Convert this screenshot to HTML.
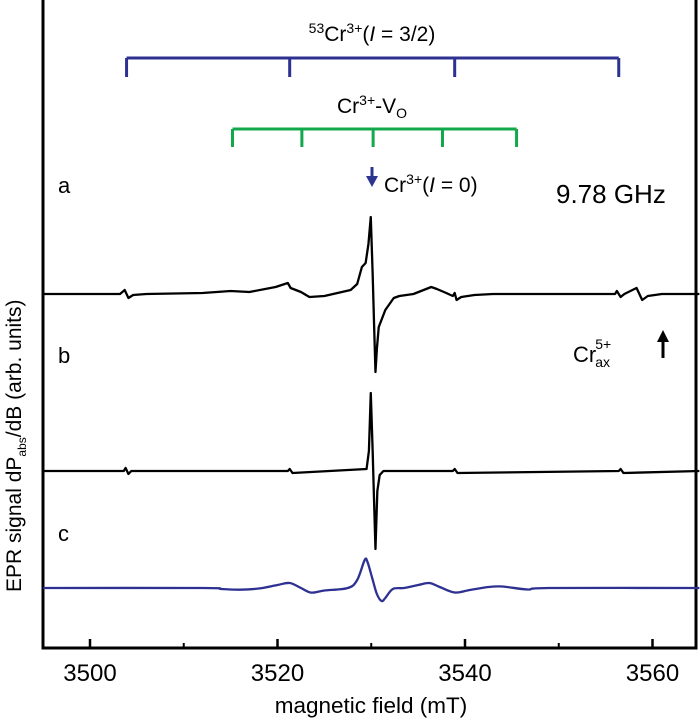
<!DOCTYPE html>
<html><head><meta charset="utf-8"><style>
html,body{margin:0;padding:0;background:#fff;}
svg{display:block;font-family:"Liberation Sans",Arial,sans-serif;}
</style></head><body>
<svg id="chart" width="700" height="718" viewBox="0 0 700 718">
<g id="axes"></g>
<g id="traces"></g>
<g id="annot">
  <text x="372" y="41" font-size="21" text-anchor="middle"><tspan font-size="14" dy="-8">53</tspan><tspan dy="8">Cr</tspan><tspan font-size="14" dy="-8">3+</tspan><tspan dy="8">(</tspan><tspan font-style="italic">I</tspan><tspan> = 3/2)</tspan></text>
  <text x="372" y="113" font-size="21" text-anchor="middle">Cr<tspan font-size="14" dy="-8">3+</tspan><tspan dy="8">-V</tspan><tspan font-size="14" dy="5">O</tspan></text>
  <line x1="372" y1="167" x2="372" y2="178" stroke="#2b3590" stroke-width="3"/>
  <polygon points="366,176 378,176 372,187" fill="#2b3590"/>
  <text x="384" y="192" font-size="21">Cr<tspan font-size="14" dy="-8">3+</tspan><tspan dy="8">(</tspan><tspan font-style="italic">I</tspan><tspan> = 0)</tspan></text>
  <text x="556" y="203" font-size="26">9.78 GHz</text>
  <text x="58" y="193" font-size="22">a</text>
  <text x="58" y="363" font-size="22">b</text>
  <text x="58" y="541" font-size="22">c</text>
  <text x="573" y="362" font-size="22">Cr<tspan font-size="14" dx="-1" dy="-13">5+</tspan><tspan font-size="14" dx="-16" dy="18">ax</tspan></text>
  <line x1="663" y1="358" x2="663" y2="340" stroke="#000" stroke-width="3"/>
  <polygon points="657,342 669,342 663,330" fill="#000"/>
  <text transform="translate(21,592) rotate(-90)" font-size="21">EPR signal dP<tspan font-size="12" dy="5">abs</tspan><tspan dy="-5">/dB (arb. units)</tspan></text>
  <text x="371" y="713" font-size="22.5" text-anchor="middle">magnetic field (mT)</text>
</g>
</svg>
<script>
// data
const xTicks = [3500, 3520, 3540, 3560];
const xMinorTicks = [3510, 3530, 3550];
const cr53Lines = [3503.9, 3521.3, 3538.9, 3556.4];
const crVoLines = [3515.2, 3522.6, 3530.2, 3537.6, 3545.5];
const traceAField = [3495,3503.2,3503.7,3504.1,3504.6,3506,3512,3515,3517,3519.8,3521.1,3521.4,3522.5,3523.4,3525,3527.8,3528.5,3529,3529.4,3529.7,3529.95,3530.15,3530.3,3530.45,3530.6,3530.8,3531.5,3532.4,3533,3534.5,3536.4,3537,3538,3538.7,3538.9,3539.1,3539.6,3541,3543,3556,3556.2,3556.6,3557,3558.3,3558.9,3559.5,3561,3565];
const traceAValue = [0,0,4,-4,-1,0,1,3,2,7,11,6,2,-3,-2,4,10,27,31,50,77,20,-30,-78,-55,-33,-16,-4,-2,0,7,5,1,-2,1,-6,-3,-1,0,0,3,-3,0,6,-6,-2,0,0];
const traceBField = [3495,3503.6,3503.8,3504.1,3504.4,3521.1,3521.3,3521.6,3529.5,3529.75,3529.95,3530.15,3530.3,3530.45,3530.65,3530.9,3531.3,3538.7,3538.9,3539.2,3556.4,3556.6,3556.9,3565];
const traceBValue = [0,0,3,-3,0,0,2,-2,2,20,78,20,-30,-78,-20,-4,0,0,2,-2,0,2,-2,0];
const traceCField = [3495,3512,3514,3516,3518,3520,3521.3,3522.5,3523.6,3525,3527.5,3528.5,3529.3,3529.6,3530.1,3530.6,3531.1,3531.5,3532.3,3533.5,3535,3536.2,3537.3,3538.9,3540.5,3542.5,3544,3546.7,3549,3565];
const traceCValue = [0,0,-1,-1.7,-0.5,3,5,0,-4.6,-2.5,0,8,28,26,10,-6,-13,-10,-1,0,3,5,1,-4.5,-2,1,1.5,-1.5,0,0];

const NS = 'http://www.w3.org/2000/svg';
const xScale = b => 90 + (b - 3500) * 9.375;
const yA = v => 294 - v, yB = v => 471 - v, yC = v => 588 - v;
function mk(tag, attrs, parent){ const e=document.createElementNS(NS,tag); for(const k in attrs) e.setAttribute(k,attrs[k]); parent.appendChild(e); return e; }
const axes = document.getElementById('axes'), traces = document.getElementById('traces');

let e = mk('path',{d:'M43,0 V648 H696 V0',fill:'none',stroke:'#000','stroke-width':3},axes);


xTicks.forEach(t=>{
  const x=xScale(t);
  let l=mk('line',{x1:x,x2:x,y1:648,y2:639,stroke:'#000','stroke-width':2.5},axes);
  
  
  let tx=mk('text',{x:x,y:681,'font-size':24,'text-anchor':'middle'},axes);
  tx.textContent=t;
  
  
});
xMinorTicks.forEach(t=>{
  const x=xScale(t);
  let l=mk('line',{x1:x,x2:x,y1:648,y2:643,stroke:'#000','stroke-width':2},axes);
  
  
});
function bracket(lines, y, h, color, name){
  const xs=lines.map(xScale);
  let d='M'+xs[0]+','+y+' H'+xs[xs.length-1];
  xs.forEach(x=>{ d+=' M'+x+','+y+' V'+(y+h); });
  let p=mk('path',{d:d,fill:'none',stroke:color,'stroke-width':3},traces);
  
  
}
bracket(cr53Lines,58,19,'#2e3192','cr53-bracket');
bracket(crVoLines,129,18,'#13a84b','cr-vo-bracket');
function linePath(fs, vs, ys){ return fs.map((f,i)=>(i?'L':'M')+xScale(f).toFixed(2)+','+ys(vs[i]).toFixed(2)).join(' '); }
function smoothPath(fs, vs, ys){
  const P=fs.map((f,i)=>[xScale(f),ys(vs[i])]);
  let d='M'+P[0][0]+','+P[0][1];
  for(let i=0;i<P.length-1;i++){
    const p0=P[Math.max(0,i-1)],p1=P[i],p2=P[i+1],p3=P[Math.min(P.length-1,i+2)];
    const c1=[p1[0]+(p2[0]-p0[0])/6,p1[1]+(p2[1]-p0[1])/6], c2=[p2[0]-(p3[0]-p1[0])/6,p2[1]-(p3[1]-p1[1])/6];
    d+=' C'+c1[0].toFixed(2)+','+c1[1].toFixed(2)+' '+c2[0].toFixed(2)+','+c2[1].toFixed(2)+' '+p2[0].toFixed(2)+','+p2[1].toFixed(2);
  }
  return d;
}
let pa=mk('path',{d:linePath(traceAField,traceAValue,yA),fill:'none',stroke:'#000','stroke-width':2.3,'stroke-linejoin':'round'},traces);


let pb=mk('path',{d:linePath(traceBField,traceBValue,yB),fill:'none',stroke:'#000','stroke-width':2.3,'stroke-linejoin':'round'},traces);


let pc=mk('path',{d:smoothPath(traceCField,traceCValue,yC),fill:'none',stroke:'#2e3192','stroke-width':2.3},traces);


</script>
</body></html>
